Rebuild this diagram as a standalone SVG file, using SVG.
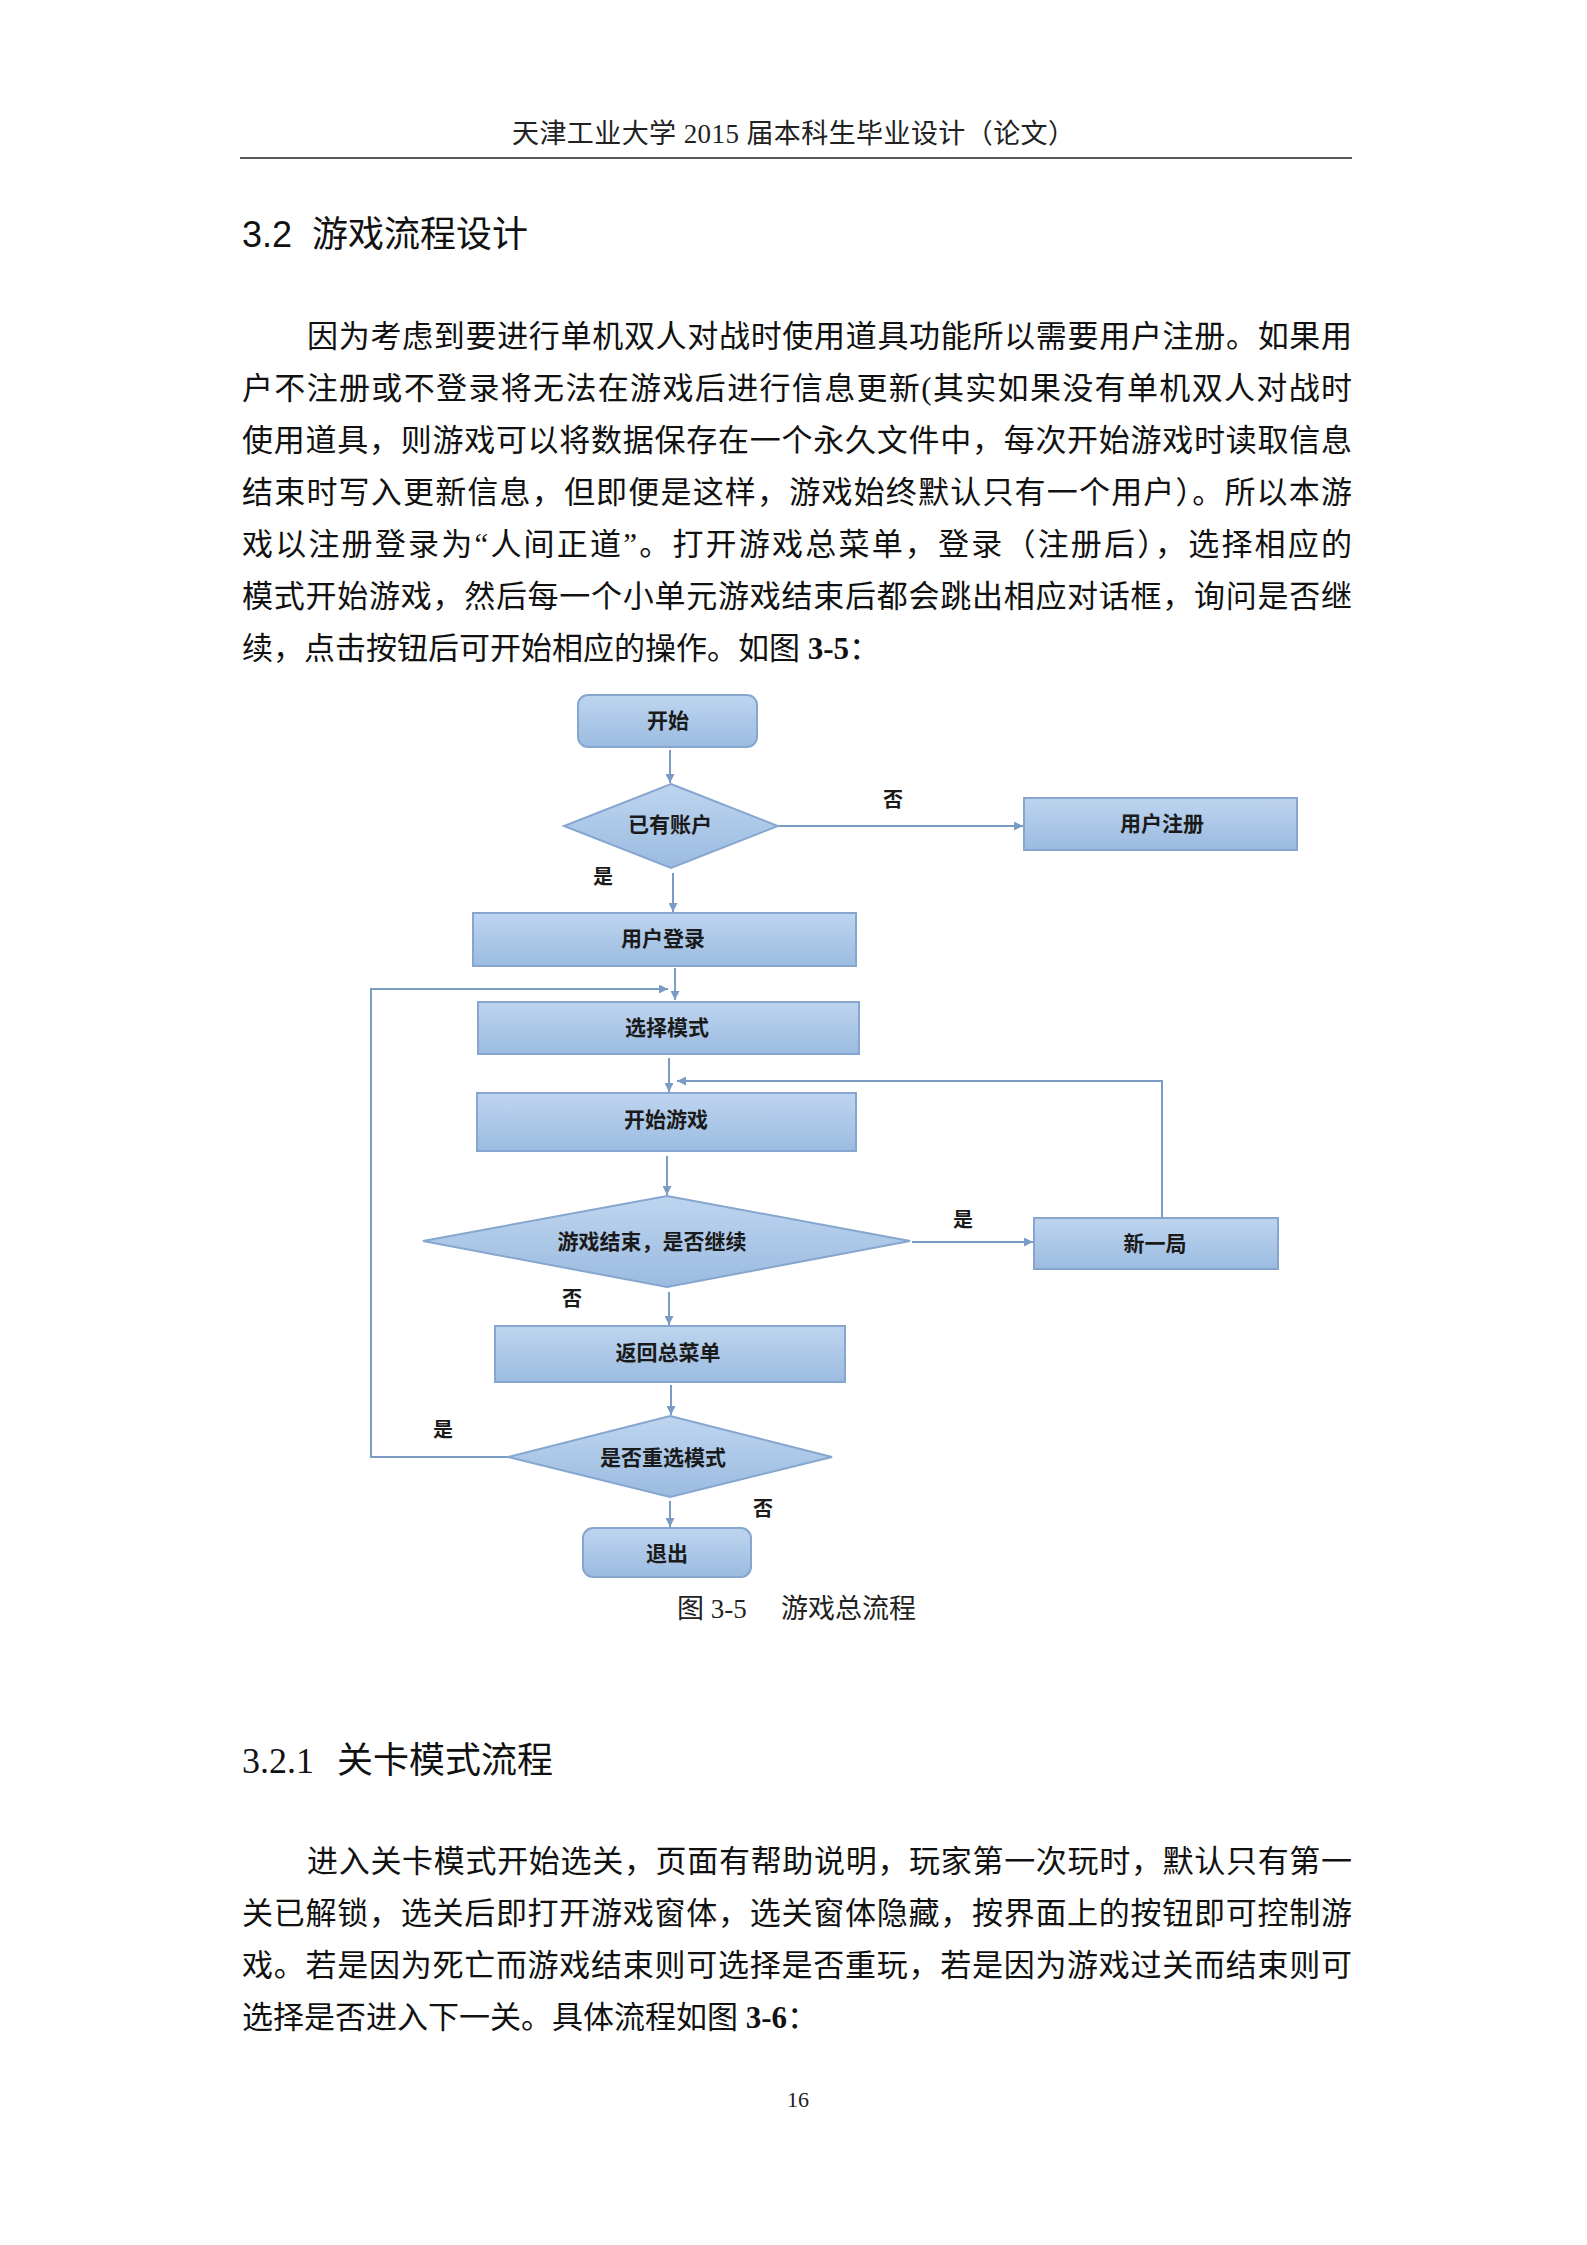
<svg xmlns="http://www.w3.org/2000/svg" width="1587" height="2245" viewBox="0 0 1587 2245">
<style>
.hdr{font-family:"Liberation Serif","Noto Sans CJK SC",serif;font-size:27px;fill:#222}
.body{font-family:"Liberation Serif","Noto Sans CJK SC",serif;font-size:31px;fill:#111}
.h2n{font-family:"Liberation Sans",sans-serif;font-size:36px;fill:#111}
.h3n{font-family:"Liberation Serif",serif;font-size:36px;fill:#111}
.hcjk{font-family:"Noto Sans CJK SC",sans-serif;font-size:36px;fill:#111}
.cap{font-family:"Liberation Serif","Noto Sans CJK SC",serif;font-size:27px;fill:#222}
.box{fill:url(#g);stroke:#86a6cf;stroke-width:2}
.nt{font-family:"Noto Sans CJK SC",sans-serif;font-size:21px;font-weight:bold;fill:#1a1a1a;text-anchor:middle;dominant-baseline:central}
.lbl{font-family:"Noto Sans CJK SC",sans-serif;font-size:20px;font-weight:bold;fill:#1a1a1a;text-anchor:middle;dominant-baseline:central}
.cn{fill:none;stroke:#7a9cc4;stroke-width:2}
.arr{marker-end:url(#ah)}
</style>
<defs>
<linearGradient id="g" x1="0" y1="0" x2="0" y2="1">
<stop offset="0" stop-color="#bed5ef"/>
<stop offset="1" stop-color="#9bbbe0"/>
</linearGradient>
<marker id="ah" viewBox="0 0 10 10" refX="10" refY="5" markerWidth="10" markerHeight="9" markerUnits="userSpaceOnUse" orient="auto">
<path d="M0,0 L10,5 L0,10 Z" fill="#7a9cc4"/>
</marker>
</defs>
<rect width="1587" height="2245" fill="#fff"/>

<g id="page">
<text class="hdr" x="512" y="143" textLength="563" lengthAdjust="spacing">天津工业大学 2015 届本科生毕业设计（论文）</text>
<line x1="240" y1="158" x2="1352" y2="158" stroke="#222" stroke-width="1.5"/>
<text class="h2n" x="242" y="247">3.2</text>
<text class="hcjk" x="312" y="247">游戏流程设计</text>
<text class="body" x="307" y="347" textLength="1045" lengthAdjust="spacing">因为考虑到要进行单机双人对战时使用道具功能所以需要用户注册。如果用</text>
<text class="body" x="242" y="399" textLength="1110" lengthAdjust="spacing">户不注册或不登录将无法在游戏后进行信息更新(其实如果没有单机双人对战时</text>
<text class="body" x="242" y="451" textLength="1110" lengthAdjust="spacing">使用道具，则游戏可以将数据保存在一个永久文件中，每次开始游戏时读取信息</text>
<text class="body" x="242" y="503" textLength="1110" lengthAdjust="spacing">结束时写入更新信息，但即便是这样，游戏始终默认只有一个用户）。所以本游</text>
<text class="body" x="242" y="555" textLength="1110" lengthAdjust="spacing">戏以注册登录为“人间正道”。打开游戏总菜单，登录（注册后），选择相应的</text>
<text class="body" x="242" y="607" textLength="1110" lengthAdjust="spacing">模式开始游戏，然后每一个小单元游戏结束后都会跳出相应对话框，询问是否继</text>
<text class="body" x="242" y="659">续，点击按钮后可开始相应的操作。如图 <tspan font-weight="bold">3-5</tspan>：</text>
<text class="cap" x="677" y="1618">图 3-5</text>
<text class="cap" x="781" y="1618">游戏总流程</text>
<text class="h3n" x="242" y="1773">3.2.1</text>
<text class="hcjk" x="337" y="1773">关卡模式流程</text>
<text class="body" x="307" y="1872" textLength="1045" lengthAdjust="spacing">进入关卡模式开始选关，页面有帮助说明，玩家第一次玩时，默认只有第一</text>
<text class="body" x="242" y="1924" textLength="1110" lengthAdjust="spacing">关已解锁，选关后即打开游戏窗体，选关窗体隐藏，按界面上的按钮即可控制游</text>
<text class="body" x="242" y="1976" textLength="1110" lengthAdjust="spacing">戏。若是因为死亡而游戏结束则可选择是否重玩，若是因为游戏过关而结束则可</text>
<text class="body" x="242" y="2028">选择是否进入下一关。具体流程如图 <tspan font-weight="bold">3-6</tspan>：</text>
<text x="798" y="2107" text-anchor="middle" font-family="Liberation Serif" font-size="22" fill="#222">16</text>
</g>

<g id="connectors">
<path class="cn arr" d="M670,750 V783"/>
<path class="cn arr" d="M778,826 H1023"/>
<path class="cn arr" d="M673,873 V912"/>
<path class="cn arr" d="M675,968 V1000"/>
<path class="cn arr" d="M669,1058 V1092"/>
<path class="cn arr" d="M667,1156 V1195"/>
<path class="cn arr" d="M912,1242 H1033"/>
<path class="cn arr" d="M1162,1218 V1081 H677"/>
<path class="cn arr" d="M669,1292 V1325"/>
<path class="cn arr" d="M671,1385 V1415"/>
<path class="cn arr" d="M508,1457 H371 V989 H668"/>
<path class="cn arr" d="M670,1501 V1527"/>
<text class="lbl" x="893" y="798">否</text>
<text class="lbl" x="603" y="875">是</text>
<text class="lbl" x="963" y="1218">是</text>
<text class="lbl" x="572" y="1297">否</text>
<text class="lbl" x="443" y="1428">是</text>
<text class="lbl" x="763" y="1507">否</text>
</g>

<g id="n-start">
<rect class="box" x="578" y="695" width="179" height="52" rx="10"/>
<text class="nt" x="668" y="719">开始</text>
</g>
<g id="n-has-account">
<polygon class="box" points="671,784 778,826 671,868 564,826"/>
<text class="nt" x="670" y="823">已有账户</text>
</g>
<g id="n-register">
<rect class="box" x="1024" y="798" width="273" height="52"/>
<text class="nt" x="1162" y="822">用户注册</text>
</g>
<g id="n-login">
<rect class="box" x="473" y="913" width="383" height="53"/>
<text class="nt" x="663" y="937">用户登录</text>
</g>
<g id="n-select-mode">
<rect class="box" x="478" y="1002" width="381" height="52"/>
<text class="nt" x="667" y="1026">选择模式</text>
</g>
<g id="n-start-game">
<rect class="box" x="477" y="1093" width="379" height="58"/>
<text class="nt" x="666" y="1118">开始游戏</text>
</g>
<g id="n-continue">
<polygon class="box" points="667,1196 910,1241 667,1287 423,1241"/>
<text class="nt" x="652" y="1240">游戏结束，是否继续</text>
</g>
<g id="n-new-round">
<rect class="box" x="1034" y="1218" width="244" height="51"/>
<text class="nt" x="1155" y="1242">新一局</text>
</g>
<g id="n-back-menu">
<rect class="box" x="495" y="1326" width="350" height="56"/>
<text class="nt" x="668" y="1351">返回总菜单</text>
</g>
<g id="n-reselect">
<polygon class="box" points="670,1416 832,1457 670,1497 508,1457"/>
<text class="nt" x="663" y="1456">是否重选模式</text>
</g>
<g id="n-exit">
<rect class="box" x="583" y="1528" width="168" height="49" rx="10"/>
<text class="nt" x="667" y="1552">退出</text>
</g>
</svg>
